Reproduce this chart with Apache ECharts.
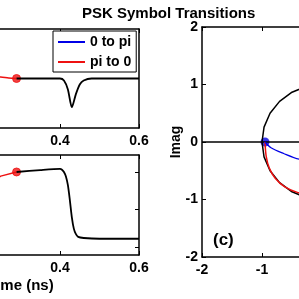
<!DOCTYPE html>
<html>
<head>
<meta charset="utf-8">
<script src="https://cdn.jsdelivr.net/npm/echarts@6/dist/echarts.min.js"></script>
<style>
  html, body { margin: 0; padding: 0; background: #fff; }
  #main { width: 299px; height: 299px; }
</style>
</head>
<body>
<div id="main"></div>
<script>
  // time traces (ns)
  const topRedT = [0.2, 0.25, 0.27, 0.29];
  const topRedV = [0.05, 0.03, 0.01, 0];
  const topBlackT = [0.29, 0.35, 0.40, 0.41, 0.42, 0.43, 0.44, 0.45, 0.46, 0.48, 0.52, 0.6];
  const topBlackV = [0, 0, 0, -0.04, -0.22, -0.58, -0.32, -0.12, -0.04, 0, 0, 0];

  const botRedT = [0.2, 0.25, 0.29];
  const botRedV = [0.6, 0.89, 1.0];
  const botBlackT = [0.29, 0.35, 0.40, 0.405, 0.41, 0.415, 0.42, 0.425, 0.43, 0.435, 0.44, 0.446, 0.46, 0.5, 0.6];
  const botBlackV = [1.0, 1.05, 1.08, 1.06, 1.0, 0.88, 0.65, 0.25, -0.2, -0.5, -0.64, -0.72, -0.75, -0.77, -0.77];

  // constellation (I/Q)
  const circleI = [1, 0.966, 0.866, 0.707, 0.5, 0.259, 0, -0.259, -0.5, -0.707, -0.866, -0.966, -1, -0.966, -0.866, -0.707, -0.5, -0.259, 0, 0.259, 0.5, 0.707, 0.866, 0.966, 1];
  const circleQ = [0, 0.259, 0.5, 0.707, 0.866, 0.966, 1, 0.966, 0.866, 0.707, 0.5, 0.259, 0, -0.259, -0.5, -0.707, -0.866, -0.966, -1, -0.966, -0.866, -0.707, -0.5, -0.259, 0];
  const redI = [-0.95, -0.93, -0.88, -0.78, -0.62, -0.4, -0.15, 0.15, 0.4, 0.62, 0.78, 0.88, 0.93, 0.95];
  const redQ = [0, -0.25, -0.45, -0.63, -0.78, -0.88, -0.93, -0.93, -0.88, -0.78, -0.63, -0.45, -0.25, 0];
  const blueI = [-0.95, -0.85, -0.64, -0.38, 0, 0.38, 0.64, 0.85, 0.95];
  const blueQ = [0, -0.1, -0.2, -0.3, -0.35, -0.3, -0.2, -0.1, 0];
  const zeroI = [-2, 2];
  const zeroQ = [0, 0];

  const BLUE = '#0000e6', RED = '#ee1111', FONT = 'Liberation Sans, Arial, sans-serif';

  function zip(a, b) { return a.map((v, i) => [v, b[i]]); }

  function axis(grid, pos, min, max, interval, opts) {
    opts = opts || {};
    return Object.assign({
      gridIndex: grid, type: 'value', position: pos, min: min, max: max, interval: interval,
      axisLine: { show: true, onZero: false, lineStyle: { color: '#000', width: 1.5 } },
      axisTick: { show: true, inside: true, length: 4, lineStyle: { color: '#000', width: 1 } },
      axisLabel: { show: false },
      splitLine: { show: false }
    }, opts);
  }
  const lbl = { show: true, color: '#000', fontWeight: 'bold', fontSize: 14, fontFamily: FONT, margin: 6 };

  let myChart = echarts.init(document.getElementById('main'));
  myChart.setOption({
    animation: false,
    title: {
      text: 'PSK Symbol Transitions', left: 82, top: 6, padding: 0,
      textStyle: { fontSize: 15, fontWeight: 'bold', fontFamily: FONT, color: '#000' }
    },
    legend: {
      data: ['0 to pi', 'pi to 0'], orient: 'vertical', left: 53, top: 31,
      padding: [4, 5, 3, 5], itemGap: 6, itemWidth: 27, itemHeight: 2, icon: 'rect',
      backgroundColor: '#fff', borderColor: '#000', borderWidth: 1, borderRadius: 0,
      textStyle: { fontSize: 14, fontWeight: 'bold', fontFamily: FONT, color: '#000', lineHeight: 14 }
    },
    grid: [
      { left: -98, width: 237, top: 29, height: 99, outerBoundsMode: 'none' },
      { left: -98, width: 237, top: 155, height: 100, outerBoundsMode: 'none' },
      { left: 202, width: 240, top: 27, height: 230, outerBoundsMode: 'none' }
    ],
    xAxis: [
      axis(0, 'bottom', 0, 0.6, 0.2, { axisLabel: lbl }),
      axis(0, 'top', 0, 0.6, 0.2),
      axis(1, 'bottom', 0, 0.6, 0.2, {
        axisLabel: lbl, name: 'Time (ns)', nameLocation: 'middle', nameGap: 23, nameMoveOverlap: false,
        nameTextStyle: { fontSize: 15, fontWeight: 'bold', fontFamily: FONT, color: '#000' }
      }),
      axis(1, 'top', 0, 0.6, 0.2),
      axis(2, 'bottom', -2, 2, 1, { axisLabel: lbl }),
      axis(2, 'top', -2, 2, 1)
    ],
    yAxis: [
      axis(0, 'left', -1, 1, 1, { axisTick: { show: false } }),
      axis(0, 'right', -1, 1, 1, { axisTick: { show: false } }),
      axis(1, 'left', -1.2, 1.45, 1, { axisTick: { show: false } }),
      axis(1, 'right', -1.2, 1.45, 1, {
        axisTick: { show: true, inside: true, length: 4, customValues: [-1, 0, 1], lineStyle: { color: '#000' } }
      }),
      axis(2, 'left', -2, 2, 1, {
        axisLabel: Object.assign({}, lbl, { margin: 4 }),
        name: 'Imag', nameLocation: 'middle', nameGap: 19, nameRotate: 90, nameMoveOverlap: false,
        nameTextStyle: { fontSize: 14, fontWeight: 'bold', fontFamily: FONT, color: '#000' }
      }),
      axis(2, 'right', -2, 2, 1)
    ],
    series: [
      { name: 'pi to 0', type: 'line', xAxisIndex: 0, yAxisIndex: 0, data: zip(topRedT, topRedV),
        showSymbol: false, smooth: 0.3, lineStyle: { color: RED, width: 1.5 }, itemStyle: { color: RED } },
      { name: 'trace', type: 'line', xAxisIndex: 0, yAxisIndex: 0, data: zip(topBlackT, topBlackV),
        showSymbol: false, smooth: 0.25, lineStyle: { color: '#000', width: 1.8 } },
      { name: 'marker', type: 'scatter', xAxisIndex: 0, yAxisIndex: 0, data: [[topRedT[3], topRedV[3]]],
        symbolSize: 8, itemStyle: { color: RED, borderColor: RED } },
      { name: 'pi to 0', type: 'line', xAxisIndex: 2, yAxisIndex: 2, data: zip(botRedT, botRedV),
        showSymbol: false, lineStyle: { color: RED, width: 1.5 }, itemStyle: { color: RED } },
      { name: 'trace', type: 'line', xAxisIndex: 2, yAxisIndex: 2, data: zip(botBlackT, botBlackV),
        showSymbol: false, smooth: 0.25, lineStyle: { color: '#000', width: 1.8 } },
      { name: 'marker', type: 'scatter', xAxisIndex: 2, yAxisIndex: 2, data: [[botRedT[2], botRedV[2]]],
        symbolSize: 8, itemStyle: { color: RED, borderColor: RED } },
      { name: 'zero', type: 'line', xAxisIndex: 4, yAxisIndex: 4, data: zip(zeroI, zeroQ),
        showSymbol: false, lineStyle: { color: '#000', width: 1.5 } },
      { name: 'circle', type: 'line', xAxisIndex: 4, yAxisIndex: 4, data: zip(circleI, circleQ),
        showSymbol: false, lineStyle: { color: '#000', width: 1.5 } },
      { name: 'pi to 0', type: 'line', xAxisIndex: 4, yAxisIndex: 4, data: zip(redI, redQ),
        showSymbol: false, smooth: 0.3, lineStyle: { color: RED, width: 1.5 }, itemStyle: { color: RED } },
      { name: '0 to pi', type: 'line', xAxisIndex: 4, yAxisIndex: 4, data: zip(blueI, blueQ),
        showSymbol: false, smooth: 0.3, lineStyle: { color: BLUE, width: 1.2 }, itemStyle: { color: BLUE } },
      { name: 'marker', type: 'scatter', xAxisIndex: 4, yAxisIndex: 4, data: [[blueI[0], blueQ[0]]],
        symbolSize: 9, itemStyle: { color: BLUE } }
    ],
    graphic: [
      { type: 'text', left: 213, top: 232,
        style: { text: '(c)', fontSize: 17, fontWeight: 'bold', fontFamily: FONT, fill: '#000' } }
    ]
  });
</script>
</body>
</html>
